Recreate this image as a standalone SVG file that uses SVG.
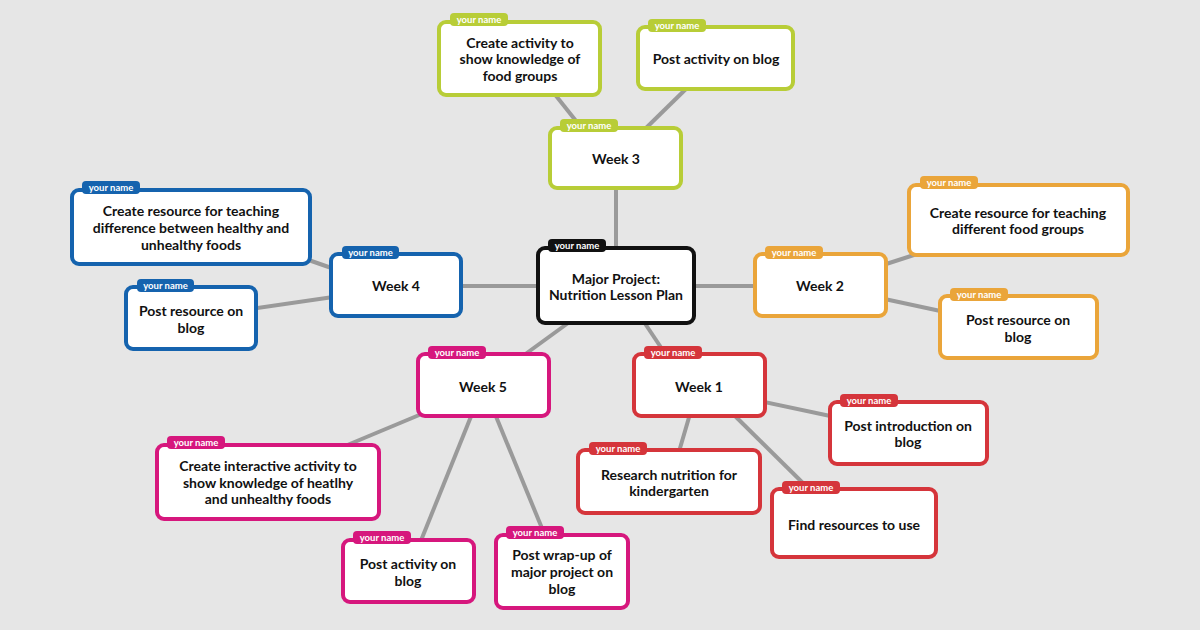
<svg xmlns="http://www.w3.org/2000/svg" width="1200" height="630" viewBox="0 0 1200 630">
<style>
.bg{fill:#e6e6e6}
.con line{stroke:#9a9a9a;stroke-width:4;stroke-linecap:butt}
.box{fill:#fff;stroke-width:4}
.tab{stroke:none}
.tt{font-family:Lato,"Liberation Sans",sans-serif;font-weight:700;font-size:9.5px;fill:#fff;text-anchor:middle}
.lb{font-family:Lato,"Liberation Sans",sans-serif;font-weight:700;font-size:14px;fill:#111;text-anchor:middle}
.k .box{stroke:#111}.k .tab{fill:#111}
.g .box{stroke:#b8cd37}.g .tab{fill:#b8cd37}
.b .box{stroke:#1563ae}.b .tab{fill:#1563ae}
.o .box{stroke:#eaa53a}.o .tab{fill:#eaa53a}
.r .box{stroke:#d5353b}.r .tab{fill:#d5353b}
.p .box{stroke:#d6177d}.p .tab{fill:#d6177d}
</style>
<rect class="bg" x="0" y="0" width="1200" height="630"/>
<g id="connectors" class="con">
<line x1="616" y1="250" x2="616" y2="186"/>
<line x1="545" y1="82" x2="588" y2="136"/>
<line x1="690" y1="85" x2="644" y2="130"/>
<line x1="540" y1="286" x2="459" y2="286"/>
<line x1="300" y1="257" x2="340" y2="271"/>
<line x1="250" y1="309" x2="340" y2="296"/>
<line x1="692" y1="286" x2="757" y2="286"/>
<line x1="880" y1="266" x2="920" y2="253"/>
<line x1="880" y1="298" x2="945" y2="312"/>
<line x1="640" y1="316" x2="668" y2="358"/>
<line x1="575" y1="318" x2="520" y2="358"/>
<line x1="760" y1="401" x2="835" y2="417"/>
<line x1="690" y1="414" x2="678" y2="455"/>
<line x1="733" y1="414" x2="812" y2="492"/>
<line x1="424" y1="413" x2="345" y2="446"/>
<line x1="472" y1="414" x2="420" y2="543"/>
<line x1="495" y1="414" x2="546" y2="538"/>
</g>
<g id="central" class="k">
<rect class="box" x="538" y="248" width="156" height="75" rx="7"/>
<rect class="tab" x="548" y="239" width="58" height="13" rx="4"/>
<text class="tt" x="577" y="248.5">your name</text>
<text class="lb" x="616" y="284">Major Project:</text>
<text class="lb" x="616" y="300">Nutrition Lesson Plan</text>
</g>
<g id="week3" class="g">
<rect class="box" x="550" y="128" width="131" height="60" rx="7"/>
<rect class="tab" x="560" y="119" width="58" height="13" rx="4"/>
<text class="tt" x="589" y="128.5">your name</text>
<text class="lb" x="616" y="164">Week 3</text>
</g>
<g id="w3-create" class="g">
<rect class="box" x="439" y="22" width="161" height="73" rx="7"/>
<rect class="tab" x="450" y="13" width="58" height="13" rx="4"/>
<text class="tt" x="479" y="22.5">your name</text>
<text class="lb" x="520" y="48">Create activity to</text>
<text class="lb" x="520" y="64">show knowledge of</text>
<text class="lb" x="520" y="81">food groups</text>
</g>
<g id="w3-post" class="g">
<rect class="box" x="638" y="27" width="155" height="62" rx="7"/>
<rect class="tab" x="648" y="19" width="58" height="13" rx="4"/>
<text class="tt" x="677" y="28.5">your name</text>
<text class="lb" x="716" y="64">Post activity on blog</text>
</g>
<g id="week4" class="b">
<rect class="box" x="331" y="254" width="130" height="62" rx="7"/>
<rect class="tab" x="342" y="246" width="57" height="13" rx="4"/>
<text class="tt" x="370.5" y="255.5">your name</text>
<text class="lb" x="396" y="291">Week 4</text>
</g>
<g id="w4-create" class="b">
<rect class="box" x="72" y="190" width="238" height="74" rx="7"/>
<rect class="tab" x="82" y="181" width="58" height="13" rx="4"/>
<text class="tt" x="111" y="190.5">your name</text>
<text class="lb" x="191" y="216">Create resource for teaching</text>
<text class="lb" x="191" y="233">difference between healthy and</text>
<text class="lb" x="191" y="250">unhealthy foods</text>
</g>
<g id="w4-post" class="b">
<rect class="box" x="126" y="287" width="130" height="62" rx="7"/>
<rect class="tab" x="137" y="279" width="57" height="13" rx="4"/>
<text class="tt" x="165.5" y="288.5">your name</text>
<text class="lb" x="191" y="316">Post resource on</text>
<text class="lb" x="191" y="333">blog</text>
</g>
<g id="week2" class="o">
<rect class="box" x="755" y="254" width="131" height="62" rx="7"/>
<rect class="tab" x="765" y="246" width="58" height="13" rx="4"/>
<text class="tt" x="794" y="255.5">your name</text>
<text class="lb" x="820" y="291">Week 2</text>
</g>
<g id="w2-create" class="o">
<rect class="box" x="909" y="185" width="219" height="70" rx="7"/>
<rect class="tab" x="920" y="176" width="58" height="13" rx="4"/>
<text class="tt" x="949" y="185.5">your name</text>
<text class="lb" x="1018" y="218">Create resource for teaching</text>
<text class="lb" x="1018" y="234">different food groups</text>
</g>
<g id="w2-post" class="o">
<rect class="box" x="940" y="296" width="157" height="62" rx="7"/>
<rect class="tab" x="950" y="288" width="58" height="13" rx="4"/>
<text class="tt" x="979" y="297.5">your name</text>
<text class="lb" x="1018" y="325">Post resource on</text>
<text class="lb" x="1018" y="342">blog</text>
</g>
<g id="week1" class="r">
<rect class="box" x="634" y="354" width="131" height="62" rx="7"/>
<rect class="tab" x="644" y="346" width="58" height="13" rx="4"/>
<text class="tt" x="673" y="355.5">your name</text>
<text class="lb" x="699" y="392">Week 1</text>
</g>
<g id="w1-intro" class="r">
<rect class="box" x="830" y="402" width="157" height="62" rx="7"/>
<rect class="tab" x="840" y="394" width="58" height="13" rx="4"/>
<text class="tt" x="869" y="403.5">your name</text>
<text class="lb" x="908" y="431">Post introduction on</text>
<text class="lb" x="908" y="447">blog</text>
</g>
<g id="w1-research" class="r">
<rect class="box" x="578" y="450" width="182" height="63" rx="7"/>
<rect class="tab" x="589" y="442" width="58" height="13" rx="4"/>
<text class="tt" x="618" y="451.5">your name</text>
<text class="lb" x="669" y="480">Research nutrition for</text>
<text class="lb" x="669" y="496">kindergarten</text>
</g>
<g id="w1-find" class="r">
<rect class="box" x="772" y="489" width="164" height="68" rx="7"/>
<rect class="tab" x="782" y="481" width="58" height="13" rx="4"/>
<text class="tt" x="811" y="490.5">your name</text>
<text class="lb" x="854" y="530">Find resources to use</text>
</g>
<g id="week5" class="p">
<rect class="box" x="418" y="354" width="131" height="62" rx="7"/>
<rect class="tab" x="428" y="346" width="58" height="13" rx="4"/>
<text class="tt" x="457" y="355.5">your name</text>
<text class="lb" x="483" y="392">Week 5</text>
</g>
<g id="w5-create" class="p">
<rect class="box" x="157" y="445" width="222" height="74" rx="7"/>
<rect class="tab" x="167" y="436" width="58" height="13" rx="4"/>
<text class="tt" x="196" y="445.5">your name</text>
<text class="lb" x="268" y="471">Create interactive activity to</text>
<text class="lb" x="268" y="488">show knowledge of heatlhy</text>
<text class="lb" x="268" y="504">and unhealthy foods</text>
</g>
<g id="w5-post" class="p">
<rect class="box" x="343" y="540" width="131" height="62" rx="7"/>
<rect class="tab" x="353" y="531" width="58" height="13" rx="4"/>
<text class="tt" x="382" y="540.5">your name</text>
<text class="lb" x="408" y="569">Post activity on</text>
<text class="lb" x="408" y="586">blog</text>
</g>
<g id="w5-wrapup" class="p">
<rect class="box" x="496" y="535" width="132" height="73" rx="7"/>
<rect class="tab" x="506" y="526" width="58" height="13" rx="4"/>
<text class="tt" x="535" y="535.5">your name</text>
<text class="lb" x="562" y="560">Post wrap-up of</text>
<text class="lb" x="562" y="577">major project on</text>
<text class="lb" x="562" y="594">blog</text>
</g>
</svg>
